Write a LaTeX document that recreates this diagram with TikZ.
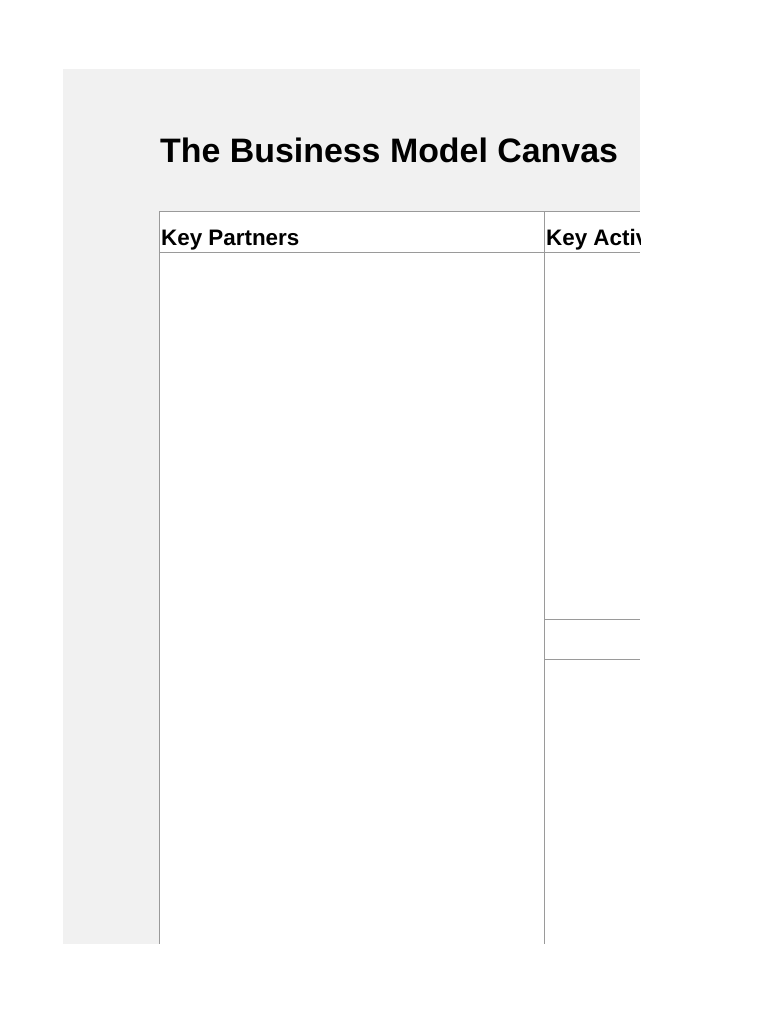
\documentclass[tikz,border=0pt]{standalone}
\usepackage{fontspec}
\setmainfont{Liberation Sans}
\definecolor{bgrey}{HTML}{F1F1F1}
\definecolor{lgrey}{HTML}{9A9A9A}
\tikzset{
  gridline/.style={draw=lgrey, line width=1pt},
  title/.style={anchor=base west, inner sep=0pt, font=\bfseries\fontsize{33.9}{40}\selectfont},
  head/.style={anchor=base west, inner sep=0pt, font=\bfseries\fontsize{22.4}{26}\selectfont}
}
\begin{document}
\begin{tikzpicture}[x=1pt,y=-1pt]
\useasboundingbox (0,0) rectangle (768,1024);
\fill[white] (0,0) rectangle (768,1024);
\fill[bgrey] (63,69) rectangle (640,944);
\fill[white] (159,212) rectangle (640,944);
\node[title] (t) at (160,163) {The Business Model Canvas};
\begin{scope}
\clip (0,0) rectangle (640,1024);
\node[head] (kp) at (161,245) {Key Partners};
\node[head] (ka) at (546,245) {Key Activities};
\end{scope}
\coordinate (tl) at (159,212);
\coordinate (tr) at (640,212);
\coordinate (hl) at (159,252);
\coordinate (hr) at (640,252);
\coordinate (bl) at (159,944);
\coordinate (m1) at (544,212);
\coordinate (m2) at (544,944);
\coordinate (a1) at (544,619);
\coordinate (a2) at (640,619);
\coordinate (b1) at (544,659);
\coordinate (b2) at (640,659);
\draw[gridline] (tl) -- (tr);
\draw[gridline] (hl) -- (hr);
\draw[gridline] (tl) -- (bl);
\draw[gridline] (m1) -- (m2);
\draw[gridline] (a1) -- (a2);
\draw[gridline] (b1) -- (b2);
\end{tikzpicture}
\end{document}
